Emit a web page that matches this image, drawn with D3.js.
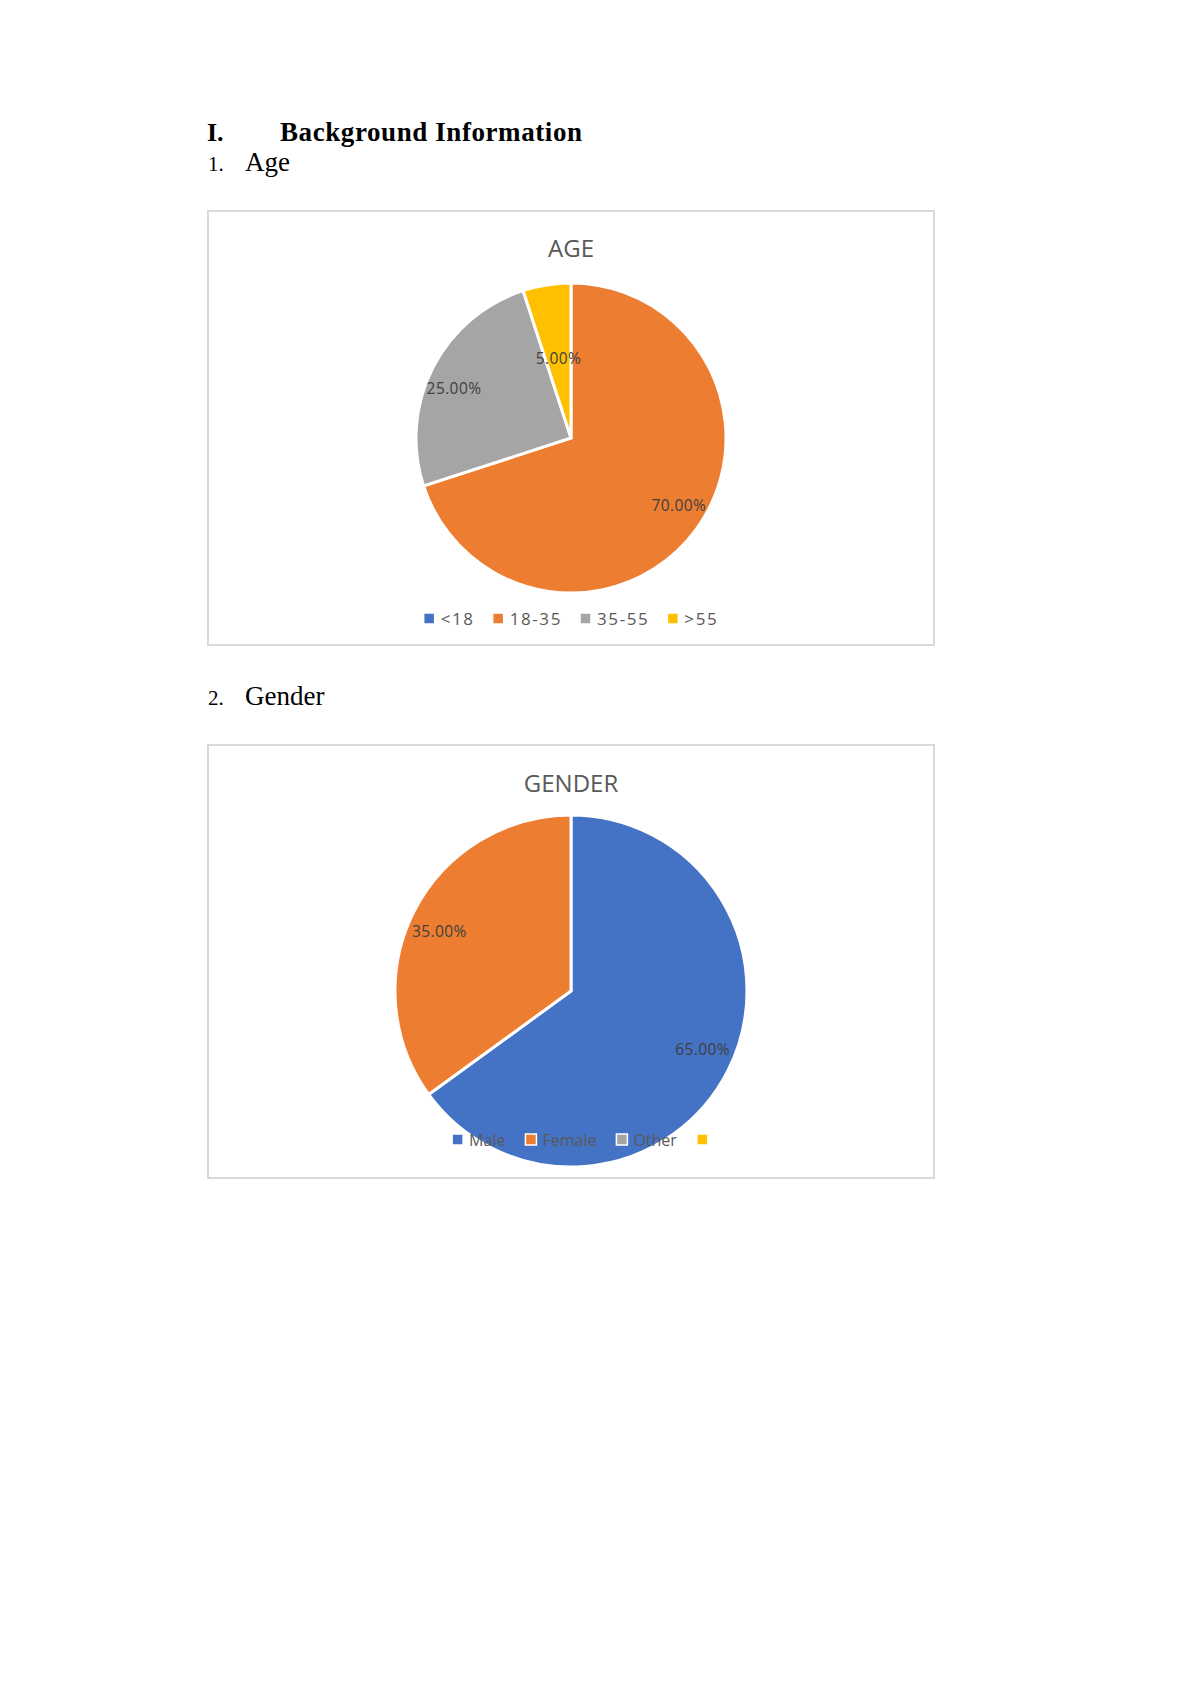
<!DOCTYPE html>
<html>
<head>
<meta charset="utf-8">
<script src="https://cdnjs.cloudflare.com/ajax/libs/d3/7.8.5/d3.min.js"></script>
<style>
  body { margin: 0; background: #fff; }
  svg { display: block; }
</style>
</head>
<body>
<svg id="page" width="1200" height="1698"></svg>
<script>
// data
var sliceColors = ["#4472C4", "#ED7D31", "#A5A5A5", "#FFC000"];

var ageCategories = ["<18", "18-35", "35-55", ">55"];
var ageValues = [0, 0.70, 0.25, 0.05];

var genderCategories = ["Male", "Female", "Other", ""];
var genderValues = [0.65, 0.35, 0, 0];

var svg = d3.select('#page');
var chartFont = "'Open Sans', 'Noto Sans', sans-serif";
var docFont = "'Liberation Serif', 'DejaVu Serif', serif";
var pct = d3.format('.2%');

// document headings
svg.append('text')
  .attr('x', 207).attr('y', 141)
  .attr('font-family', docFont).attr('font-weight', 'bold').attr('font-size', 26)
  .text('I.');
svg.append('text')
  .attr('x', 280).attr('y', 141)
  .attr('font-family', docFont).attr('font-weight', 'bold').attr('font-size', 27)
  .attr('textLength', 302).attr('lengthAdjust', 'spacing')
  .text('Background Information');

var listItem = function(num, label, y) {
  svg.append('text')
    .attr('x', 208).attr('y', y)
    .attr('font-family', docFont).attr('font-size', 21)
    .text(num);
  svg.append('text')
    .attr('x', 245).attr('y', y)
    .attr('font-family', docFont).attr('font-size', 27)
    .text(label);
}

listItem('1.', 'Age', 171);
listItem('2.', 'Gender', 705);

var drawPieChart = function(opts) {
  var g = svg.append('g');

  g.append('rect')
    .attr('x', opts.box[0]).attr('y', opts.box[1])
    .attr('width', opts.box[2]).attr('height', opts.box[3])
    .attr('fill', '#fff')
    .attr('stroke', '#d9d9d9')
    .attr('stroke-width', 2);

  g.append('text')
    .attr('x', opts.cx).attr('y', opts.titleY)
    .attr('text-anchor', 'middle')
    .attr('font-family', chartFont).attr('font-size', 24)
    .attr('fill', '#595959')
    .text(opts.title);

  var pie = d3.pie().sort(null).value(function(d) { return d.value; });
  var data = opts.categories.map(function(c, i) {
    return { name: c, value: opts.values[i], color: sliceColors[i] };
  });
  var arcs = pie(data);
  var arc = d3.arc().innerRadius(0).outerRadius(opts.r);

  var pieG = g.append('g').attr('transform', 'translate(' + opts.cx + ',' + opts.cy + ')');

  pieG.selectAll('path')
    .data(arcs.filter(function(d) { return d.data.value > 0; }))
    .enter()
    .append('path')
    .attr('d', arc)
    .attr('fill', function(d) { return d.data.color; })
    .attr('stroke', '#fff')
    .attr('stroke-width', 3)
    .attr('stroke-linejoin', 'miter');

  // small slices get their label pulled in, like excel's best fit
  pieG.selectAll('text')
    .data(arcs.filter(function(d) { return d.data.value > 0; }))
    .enter()
    .append('text')
    .attr('transform', function(d) {
      var small = d.data.value < 0.1;
      var k = small ? 0.52 : 0.82;
      var turn = small ? 0 : opts.labelTurn;
      var lab = d3.arc().innerRadius(opts.r * k).outerRadius(opts.r * k)
        .startAngle(d.startAngle - turn).endAngle(d.endAngle - turn);
      return 'translate(' + lab.centroid() + ')';
    })
    .attr('text-anchor', 'middle')
    .attr('dy', '0.35em')
    .attr('font-family', chartFont).attr('font-size', 15.5)
    .attr('letter-spacing', 0.4)
    .attr('fill', '#404040')
    .text(function(d) { return pct(d.data.value); });

  // legend
  var leg = g.append('g');
  var items = leg.selectAll('g.item')
    .data(data)
    .enter()
    .append('g')
    .attr('class', 'item');

  items.append('rect')
    .attr('width', 11).attr('height', 11)
    .attr('y', -6)
    .attr('fill', function(d) { return d.color; })
    .attr('stroke', '#fff')
    .attr('stroke-width', 1.5);

  items.append('text')
    .attr('x', 17)
    .attr('dy', '0.35em')
    .attr('font-family', chartFont).attr('font-size', opts.legendSize)
    .attr('letter-spacing', opts.legendSpacing)
    .attr('fill', '#595959')
    .text(function(d) { return d.name; });

  var x = 0;
  items.each(function(d) {
    var t = d3.select(this).select('text').node();
    var w = d.name ? 17 + t.getComputedTextLength() : 11;
    d3.select(this).attr('transform', 'translate(' + x + ',0)');
    x += w + opts.legendGap;
  });
  var total = x - opts.legendGap;
  leg.attr('transform', 'translate(' + (opts.cx + opts.legendShift - total / 2) + ',' + opts.legendY + ')');
}

drawPieChart({
  box: [208, 211, 726, 434],
  title: 'AGE', titleY: 257,
  cx: 571, cy: 438, r: 155, labelTurn: 0.07,
  categories: ageCategories, values: ageValues,
  legendY: 619, legendGap: 18, legendSize: 17, legendSpacing: 1.6, legendShift: 0
});

drawPieChart({
  box: [208, 745, 726, 433],
  title: 'GENDER', titleY: 792,
  cx: 571, cy: 991, r: 176, labelTurn: 0.05,
  categories: genderCategories, values: genderValues,
  legendY: 1140, legendGap: 20, legendSize: 16, legendSpacing: 0, legendShift: 9
});
</script>
</body>
</html>
